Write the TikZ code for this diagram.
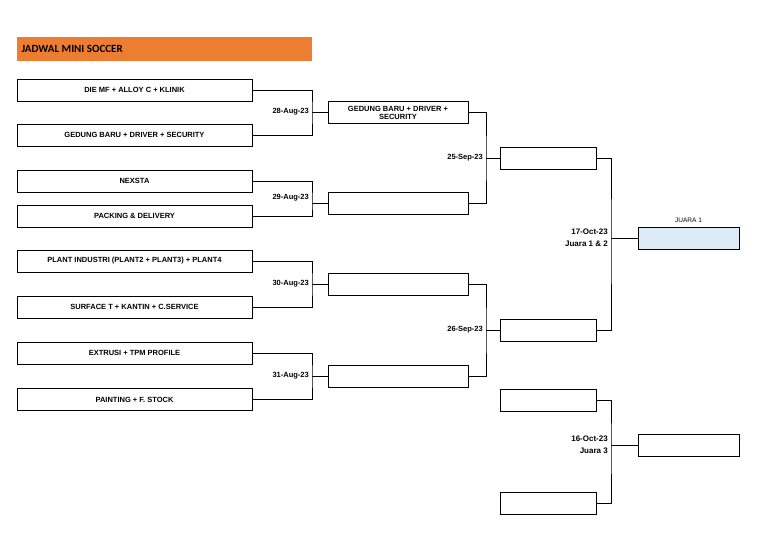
\documentclass[tikz,border=0pt]{standalone}
\usepackage{fontspec}
\setmainfont{Liberation Sans}
\newfontfamily\titlefont{Carlito}
\definecolor{org}{HTML}{ED7D31}
\definecolor{jb}{HTML}{DDEBF7}
\begin{document}
\begin{tikzpicture}[x=1pt,y=-1pt,
 box/.style={draw,line width=0.9pt,minimum height=22pt,inner sep=0pt,font=\fontsize{7.5}{8}\selectfont\bfseries,align=center},
 b1/.style={box,minimum width=235pt},
 b2/.style={box,minimum width=140pt},
 b3/.style={box,minimum width=96pt},
 b4/.style={box,minimum width=101pt},
 ln/.style={line width=0.8pt},
 dt/.style={font=\fontsize{7.5}{8.5}\selectfont\bfseries,anchor=east,align=right,inner sep=1pt}]
\useasboundingbox (0,0) rectangle (768,543);
\fill[org] (17,37) rectangle (312,61);
\node[anchor=west,font=\titlefont\fontsize{11}{12}\selectfont\bfseries] (title) at (18,49) {JADWAL MINI SOCCER};
% column 1
\node[b1] (a1) at (134.5,90) {DIE MF + ALLOY C + KLINIK};
\node[b1] (a2) at (134.5,135) {GEDUNG BARU + DRIVER + SECURITY};
\node[b1] (a3) at (134.5,181) {NEXSTA};
\node[b1] (a4) at (134.5,216) {PACKING \& DELIVERY};
\node[b1] (a5) at (134.5,261) {PLANT INDUSTRI (PLANT2 + PLANT3) + PLANT4};
\node[b1] (a6) at (134.5,307) {SURFACE T + KANTIN + C.SERVICE};
\node[b1] (a7) at (134.5,353) {EXTRUSI + TPM PROFILE};
\node[b1] (a8) at (134.5,399.5) {PAINTING + F. STOCK};
% column 2
\node[b2] (b1) at (398,112.5) {GEDUNG BARU + DRIVER +\\SECURITY};
\node[b2] (b2) at (398,203.5) {};
\node[b2] (b3) at (398,284.5) {};
\node[b2] (b4) at (398,376.5) {};
% column 3
\node[b3] (c1) at (548,158.5) {};
\node[b3] (c2) at (548,330.5) {};
\node[b3] (c3) at (548,400) {};
\node[b3] (c4) at (548,503.5) {};
% final
\node[b4,fill=jb] (f1) at (688.5,238.5) {};
\node[font=\fontsize{6.5}{7}\selectfont] (j1) at (688.5,220) {JUARA 1};
\node[b4] (f2) at (688.5,445.5) {};
% connectors
\foreach \u/\v/\w/\x in {a1/a2/b1/312,a3/a4/b2/312,a5/a6/b3/312,a7/a8/b4/312,b1/b2/c1/486,b3/b4/c2/486,c1/c2/f1/611,c3/c4/f2/611}{
 \draw[ln] (\u.east) -| (\x,0 |- \w.west) |- (\v.east);
 \draw[ln] (\x,0 |- \w.west) -- (\w.west);
}
\node[dt] (d1) at (310,112) {28-Aug-23};
\node[dt] (d2) at (310,198) {29-Aug-23};
\node[dt] (d3) at (310,284) {30-Aug-23};
\node[dt] (d4) at (310,376) {31-Aug-23};
\node[dt] (d5) at (484,158) {25-Sep-23};
\node[dt] (d6) at (484,330) {26-Sep-23};
\node[dt,font=\fontsize{8}{12}\selectfont\bfseries] (d7) at (609,238) {17-Oct-23\\Juara 1 \& 2};
\node[dt,font=\fontsize{8}{12}\selectfont\bfseries] (d8) at (609,445) {16-Oct-23\\Juara 3};
\end{tikzpicture}
\end{document}
